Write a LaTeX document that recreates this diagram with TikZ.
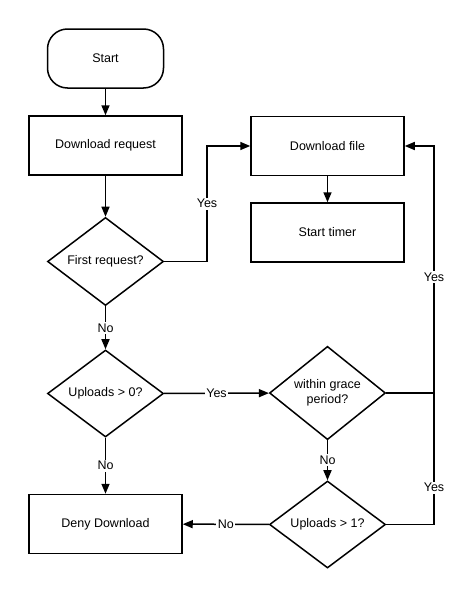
\documentclass[tikz,border=0pt]{standalone}
\usepackage{fontspec}
\setmainfont{Liberation Sans}
\usetikzlibrary{shapes.geometric,arrows.meta}
\begin{document}
\begin{tikzpicture}[x=1pt,y=-1pt,
  every node/.style={font=\fontsize{12.5}{15}\selectfont},
  box/.style={draw, line width=1.5pt, minimum width=153pt, minimum height=59pt, inner sep=0pt},
  startbox/.style={draw, line width=1.5pt, rounded corners=20pt, minimum width=116pt, minimum height=59pt, inner sep=0pt},
  dec/.style={draw, diamond, line width=1.5pt, minimum width=116pt, minimum height=87pt, inner sep=0pt, align=center},
  lab/.style={fill=white, inner sep=1.5pt},
  arr/.style={-{Triangle[length=10pt,width=8pt]}, line width=1.5pt},
  ln/.style={line width=1.5pt}]
\useasboundingbox (0,0) rectangle (474,597);
\node[startbox] (start) at (105.5,58.5) {Start};
\node[box] (req) at (105.5,145.5) {Download request};
\node[dec] (d1) at (105.5,261.5) {First request?};
\node[box] (file) at (327.5,146) {Download file};
\node[box] (timer) at (327.5,232.5) {Start timer};
\node[dec] (d2) at (105.5,393.5) {Uploads > 0?};
\node[dec] (grace) at (327.5,393) {within grace\\period?};
\node[box] (deny) at (105.5,524) {Deny Download};
\node[dec] (d3) at (327.5,524.5) {Uploads > 1?};
\coordinate (j1) at (207,146);
\coordinate (r1) at (434,524.5);
\coordinate (rj) at (434,393);
\coordinate (r2) at (434,146);
\draw[arr] (start) -- (req);
\draw[arr] (req) -- (d1);
\draw[arr] (d1.east) -| node[lab,pos=0.75]{Yes} (j1) -- (file.west);
\draw[arr] (file) -- (timer);
\draw[arr] (d1) -- node[lab]{No} (d2);
\draw[arr] (d2) -- node[lab]{Yes} (grace);
\draw[arr] (d2) -- node[lab]{No} (deny);
\draw[arr] (grace) -- node[lab]{No} (d3);
\draw[arr] (d3) -- node[lab]{No} (deny);
\draw[ln] (grace.east) -- (rj);
\draw[arr] (d3.east) -- (r1) -- node[lab,pos=0.28]{Yes} (rj) -- node[lab,pos=0.47]{Yes} (r2) -- (file.east);
\end{tikzpicture}
\end{document}
